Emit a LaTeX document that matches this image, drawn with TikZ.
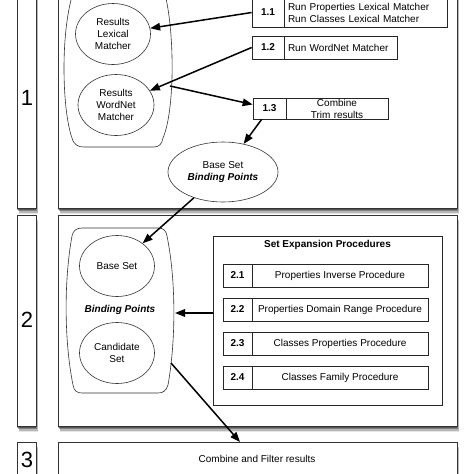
\documentclass[tikz,border=0pt]{standalone}
\usepackage{fontspec}
\setmainfont{Liberation Sans}
\usetikzlibrary{arrows.meta,shadows,shapes.geometric}
\begin{document}
\begin{tikzpicture}[x=1pt,y=-1pt,
  font=\fontsize{10}{12}\selectfont,
  panel/.style={draw=black!80, line width=0.8pt, fill=white, rectangle, inner sep=0pt,
    general shadow={shadow xshift=0pt,shadow yshift=-1.5pt,fill=black,opacity=0.35},
    general shadow={shadow xshift=1pt,shadow yshift=-3pt,fill=black,opacity=0.3},
    general shadow={shadow xshift=1.5pt,shadow yshift=-4.5pt,fill=black,opacity=0.2},
    general shadow={shadow xshift=2pt,shadow yshift=-6pt,fill=black,opacity=0.1}},
  ell/.style={draw=black!80, ellipse, line width=0.6pt, align=center, inner sep=0pt, fill=white},
  cell/.style={draw=black!85, line width=0.7pt, rectangle, inner sep=0pt, fill=white},
  numcell/.style={cell, font=\fontsize{10}{12}\selectfont\bfseries},
  arr/.style={-{Triangle[length=10pt,width=7.5pt]}, line width=1.5pt},
  cont/.style={draw=black!80, line width=0.6pt},
  digit/.style={font=\fontsize{22}{24}\selectfont, inner sep=0pt},
]
\useasboundingbox (0,0) rectangle (474,474);
\clip (0,0) rectangle (474,474);

% label boxes
\node[panel, minimum width=19pt, minimum height=228pt] (L1) at (26.5,94) {};
\node[panel, minimum width=19pt, minimum height=211pt] (L2) at (26.5,320.5) {};
\node[panel, minimum width=19pt, minimum height=58pt] (L3) at (26.5,471) {};
\node[digit] (d1) at (27,98) {1};
\node[digit] (d2) at (27,320) {2};
\node[digit] (d3) at (27,460) {3};

% panels
\node[panel, minimum width=399pt, minimum height=228pt] (p1) at (257.5,94) {};
\node[panel, minimum width=399pt, minimum height=211pt] (p2) at (257.5,320.5) {};
\node[panel, minimum width=399pt, minimum height=58pt] (p3) at (257.5,471) {};
\node (cf) at (257,459) {Combine and Filter results};

% panel 1 container
\draw[cont] (74,-10) .. controls (60,30) and (62,110) .. (72,138)
  .. controls (74,145) and (78,147) .. (84,147) -- (154,147)
  .. controls (159,147) and (162,144) .. (163,138)
  .. controls (175,110) and (175,30) .. (164,-10);

\node[ell, minimum width=75pt, minimum height=61pt] (lex) at (113,34) {Results\\Lexical\\Matcher};
\node[ell, minimum width=76pt, minimum height=61pt] (wn) at (116,105) {Results\\WordNet\\Matcher};
\node[ell, minimum width=110pt, minimum height=60pt] (bs1) at (223,172) {Base Set\\\textbf{\textit{Binding Points}}};

% boxes 1.x
\node[numcell, minimum width=32pt, minimum height=29pt] (n11) at (268,12.5) {1.1};
\node[cell, minimum height=29pt, text width=155pt, inner xsep=4pt, align=left] (t11) at (365.5,12.5) {Run Properties Lexical Matcher\\Run Classes Lexical Matcher};
\node[numcell, minimum width=32pt, minimum height=23pt] (n12) at (268,47.5) {1.2};
\node[cell, minimum height=23pt, text width=105pt, inner xsep=4pt, align=left] (t12) at (340.5,47.5) {Run WordNet Matcher};
\node[numcell, minimum width=33pt, minimum height=21pt] (n13) at (269.5,108.5) {1.3};
\node[cell, minimum height=21pt, text width=102pt, align=center] (t13) at (337,108.5) {Combine\\Trim results};

% panel 2 container
\draw[cont] (82,228) -- (158,228) .. controls (164,228) and (166,231) .. (167,236)
  .. controls (176,280) and (176,340) .. (168,385)
  .. controls (166,391) and (163,393) .. (158,393) -- (82,393)
  .. controls (77,393) and (74,391) .. (73,385)
  .. controls (64,340) and (64,280) .. (72,236)
  .. controls (73,231) and (76,228) .. (82,228) -- cycle;
\node[ell, minimum width=75pt, minimum height=61pt] (bs2) at (117,266) {Base Set};
\node[font=\fontsize{10}{12}\selectfont\bfseries\itshape] (bp) at (120,310) {Binding Points};
\node[ell, minimum width=75pt, minimum height=61pt] (cs) at (117,353) {Candidate\\Set};

% set expansion procedures
\node[cell, minimum width=229pt, minimum height=169pt] (sep) at (327.5,320.5) {};
\node[font=\fontsize{10}{12}\selectfont\bfseries] (sept) at (327.5,245) {Set Expansion Procedures};
\foreach \i/\y/\t in {1/275.5/Properties Inverse Procedure,
                      2/309.5/Properties Domain Range Procedure,
                      3/343.5/Classes Properties Procedure,
                      4/377.5/Classes Family Procedure}{
  \node[numcell, minimum width=29pt, minimum height=23pt] (n2\i) at (237.5,\y) {2.\i};
  \node[cell, minimum width=176pt, minimum height=23pt] (t2\i) at (340,\y) {\t};
}

% connectors
\draw[arr] (n11.west) -- (lex);
\draw[arr] (n12.west) -- (wn);
\coordinate (c1) at (170,86);
\draw[arr] (c1) -- ([yshift=4pt]n13.west);
\draw[arr] ([xshift=9pt]n13.south west) -- (bs1);
\draw[arr] (bs1) -- (bs2);
\coordinate (c3) at (175,313);
\draw[arr] (sep.west |- c3) -- (c3);
\coordinate (c4) at (171,363);
\coordinate (c5) at (240,442);
\draw[arr] (c4) -- (c5);
\end{tikzpicture}
\end{document}
